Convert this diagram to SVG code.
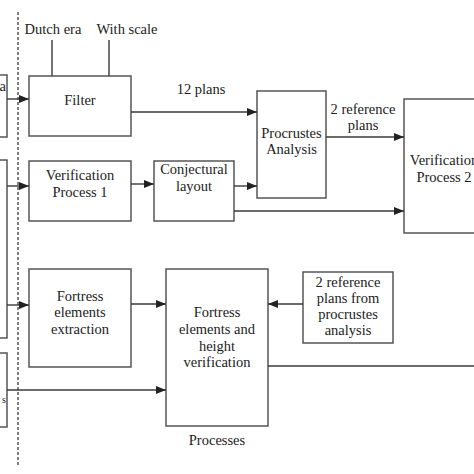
<svg xmlns="http://www.w3.org/2000/svg" width="474" height="474" viewBox="0 0 474 474">
<style>
.box{fill:#fff;stroke:#555;stroke-width:1.5}
.ln{fill:none;stroke:#3a3a3a;stroke-width:1.4}
.arr{fill:none;stroke:#3a3a3a;stroke-width:1.4;marker-end:url(#ah)}
text{font-family:'Liberation Serif','Times New Roman',serif;font-size:14.5px;fill:#222;text-anchor:middle}
</style>
<defs>
<marker id="ah" viewBox="0 0 10 8" refX="10" refY="4" markerWidth="10" markerHeight="8" markerUnits="userSpaceOnUse" orient="auto">
<path d="M0,0 L10,4 L0,8 Z" fill="#222"/>
</marker>
</defs>
<rect width="474" height="474" fill="#fff"/>
<line x1="18" y1="12" x2="18" y2="465" stroke="#555" stroke-width="1.5" stroke-dasharray="3,2"/>

<g id="leftA"><rect class="box" x="-2" y="75" width="9" height="62"/><text x="6" y="91" style="text-anchor:end">a</text></g>
<g id="leftB"><rect class="box" x="-2" y="160" width="9" height="178"/></g>
<g id="leftC"><rect class="box" x="-2" y="353" width="9" height="74"/><text x="6" y="403" style="text-anchor:end;font-size:10px">s</text></g>

<g id="filter"><rect class="box" x="29" y="76" width="102" height="60"/><text x="80" y="105">Filter</text></g>
<g id="labels-top"><text x="53" y="34">Dutch era</text><text x="127" y="34">With scale</text></g>
<g id="vp1"><rect class="box" x="29" y="161" width="102" height="60"/><text x="80" y="180">Verification</text><text x="80" y="197">Process 1</text></g>
<g id="conj"><rect class="box" x="154" y="161" width="80" height="60"/><text x="194" y="174">Conjectural</text><text x="194" y="191">layout</text></g>
<g id="procrustes"><rect class="box" x="257" y="91" width="69" height="107"/><text x="291.5" y="138">Procrustes</text><text x="291.5" y="154">Analysis</text></g>
<g id="vp2"><rect class="box" x="404" y="99" width="80" height="134"/><text x="444" y="165">Verification</text><text x="444" y="182">Process 2</text></g>
<g id="extract"><rect class="box" x="29" y="269" width="102" height="98"/><text x="80" y="301">Fortress</text><text x="80" y="317">elements</text><text x="80" y="334">extraction</text></g>
<g id="fhv"><rect class="box" x="166" y="269" width="102" height="157"/><text x="217" y="317">Fortress</text><text x="217" y="334">elements and</text><text x="217" y="351">height</text><text x="217" y="367">verification</text></g>
<g id="ref"><rect class="box" x="303" y="272" width="90" height="71"/><text x="348" y="287">2 reference</text><text x="348" y="303">plans from</text><text x="348" y="319">procrustes</text><text x="348" y="335">analysis</text></g>
<g id="processes-label"><text x="217" y="445">Processes</text></g>

<g id="connectors">
<line class="ln" x1="52" y1="40" x2="52" y2="76"/>
<line class="ln" x1="109" y1="40" x2="109" y2="76"/>
<line class="arr" x1="7" y1="99" x2="29" y2="99"/>
<line class="arr" x1="7" y1="186" x2="29" y2="186"/>
<line class="arr" x1="7" y1="305" x2="29" y2="305"/>
<line class="arr" x1="7" y1="390" x2="166" y2="390"/>
<line class="arr" x1="131" y1="112" x2="257" y2="112"/>
<text x="201" y="94">12 plans</text>
<line class="arr" x1="131" y1="184" x2="154" y2="184"/>
<line class="arr" x1="234" y1="186" x2="257" y2="186"/>
<line class="arr" x1="234" y1="211" x2="404" y2="211"/>
<line class="arr" x1="326" y1="137" x2="404" y2="137"/>
<text x="363" y="114">2 reference</text><text x="363" y="130">plans</text>
<line class="arr" x1="131" y1="304" x2="166" y2="304"/>
<line class="arr" x1="303" y1="304" x2="268" y2="304"/>
<line class="ln" x1="268" y1="366" x2="474" y2="366"/>
</g>
</svg>
